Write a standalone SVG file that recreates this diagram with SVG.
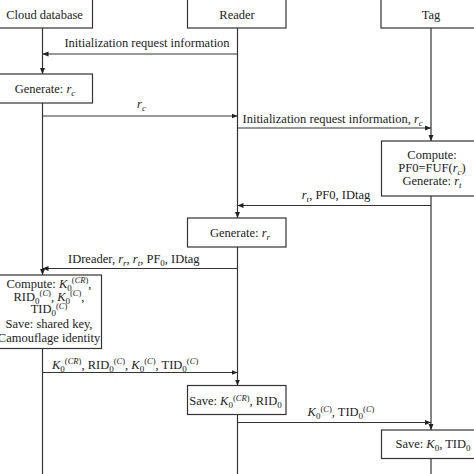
<svg xmlns="http://www.w3.org/2000/svg" width="474" height="474" viewBox="0 0 474 474">
<defs>
<marker id="ah" viewBox="0 0 6 6" refX="6" refY="3" markerWidth="6" markerHeight="6" markerUnits="userSpaceOnUse" orient="auto">
<path d="M0,0.5 L6,3 L0,5.5 z" fill="#222"/>
</marker>
<style>
.bx{fill:#fff;stroke:#333;stroke-width:1.2}
.ln{fill:none;stroke:#333;stroke-width:1.2}
.ar{fill:none;stroke:#333;stroke-width:1.2;marker-end:url(#ah)}
text{font-family:"Liberation Serif","Times New Roman",serif;font-size:12.5px;fill:#222}
.m{text-anchor:middle}
.i{font-style:italic}
.s{font-size:9px}
.u{font-size:8.5px}
</style>
</defs>
<rect width="474" height="474" fill="#fff"/>
<g id="connectors">
<line class="ar" x1="42.5" y1="28" x2="42.5" y2="74"/>
<line class="ar" x1="42.5" y1="103" x2="42.5" y2="275"/>
<line class="ln" x1="42.5" y1="348.5" x2="42.5" y2="474"/>
<line class="ar" x1="237.5" y1="28" x2="237.5" y2="218"/>
<line class="ar" x1="237.5" y1="247" x2="237.5" y2="385.5"/>
<line class="ln" x1="237.5" y1="414.5" x2="237.5" y2="474"/>
<line class="ar" x1="431" y1="28" x2="431" y2="141"/>
<line class="ar" x1="431" y1="196" x2="431" y2="430"/>
<line class="ln" x1="431" y1="458.5" x2="431" y2="474"/>
<line class="ar" x1="237.5" y1="54" x2="42.5" y2="54"/>
<line class="ar" x1="42.5" y1="116" x2="237.5" y2="116"/>
<line class="ar" x1="237.5" y1="128" x2="431" y2="128"/>
<line class="ar" x1="431" y1="205.5" x2="237.5" y2="205.5"/>
<line class="ar" x1="237.5" y1="268.5" x2="42.5" y2="268.5"/>
<line class="ar" x1="42.5" y1="372.5" x2="237.5" y2="372.5"/>
<line class="ar" x1="237.5" y1="422.5" x2="431" y2="422.5"/>
<text class="m" x="147" y="47">Initialization request information</text>
<text x="137" y="108"><tspan class="i">r</tspan><tspan class="i s" dy="3">c</tspan></text>
<text x="242.5" y="122.5">Initialization request information, <tspan class="i">r</tspan><tspan class="i s" dy="3">c</tspan></text>
<text class="m" x="336" y="198.5"><tspan class="i">r</tspan><tspan class="i s" dy="3">t</tspan><tspan dy="-3">, PF0, IDtag</tspan></text>
<text x="68" y="263">IDreader, <tspan class="i">r</tspan><tspan class="i s" dy="3">r</tspan><tspan dy="-3">, </tspan><tspan class="i">r</tspan><tspan class="i s" dy="3">t</tspan><tspan dy="-3">, PF</tspan><tspan class="s" dy="3">0</tspan><tspan dy="-3">, IDtag</tspan></text>
<text x="52" y="368.5"><tspan class="i">K</tspan><tspan class="s" dy="3">0</tspan><tspan class="u" dy="-7.5">(<tspan class="i">CR</tspan>)</tspan><tspan dy="4.5">, RID</tspan><tspan class="s" dy="3">0</tspan><tspan class="u" dy="-7.5">(<tspan class="i">C</tspan>)</tspan><tspan dy="4.5">, </tspan><tspan class="i">K</tspan><tspan class="s" dy="3">0</tspan><tspan class="u" dy="-7.5">(<tspan class="i">C</tspan>)</tspan><tspan dy="4.5">, TID</tspan><tspan class="s" dy="3">0</tspan><tspan class="u" dy="-7.5">(<tspan class="i">C</tspan>)</tspan></text>
<text class="m" x="341" y="416"><tspan class="i">K</tspan><tspan class="s" dy="3">0</tspan><tspan class="u" dy="-7.5">(<tspan class="i">C</tspan>)</tspan><tspan dy="4.5">, TID</tspan><tspan class="s" dy="3">0</tspan><tspan class="u" dy="-7.5">(<tspan class="i">C</tspan>)</tspan></text>
</g>
<g id="cloud-database">
<rect class="bx" x="-3" y="-3" width="95.5" height="31"/>
<text class="m" x="44.5" y="19">Cloud database</text>
</g>
<g id="reader">
<rect class="bx" x="187.5" y="-3" width="98.5" height="31"/>
<text class="m" x="237" y="19">Reader</text>
</g>
<g id="tag">
<rect class="bx" x="381" y="-3" width="100" height="31"/>
<text class="m" x="431" y="19">Tag</text>
</g>
<g id="generate-rc">
<rect class="bx" x="-3" y="74" width="95.5" height="29"/>
<text class="m" x="45" y="93">Generate: <tspan class="i">r</tspan><tspan class="i s" dy="3">c</tspan></text>
</g>
<g id="tag-compute">
<rect class="bx" x="381.5" y="141" width="100" height="55"/>
<text class="m" x="432" y="158.5">Compute:</text>
<text class="m" x="432" y="172">PF0=FUF(<tspan class="i">r</tspan><tspan class="i s" dy="3">c</tspan><tspan dy="-3">)</tspan></text>
<text class="m" x="432" y="185">Generate: <tspan class="i">r</tspan><tspan class="i s" dy="3">t</tspan></text>
</g>
<g id="generate-rr">
<rect class="bx" x="187.5" y="218" width="98.5" height="29"/>
<text class="m" x="240" y="236.5">Generate: <tspan class="i">r</tspan><tspan class="i s" dy="3">r</tspan></text>
</g>
<g id="cloud-compute">
<rect class="bx" x="-3" y="275" width="104.5" height="73.5"/>
<text class="m" x="49" y="287.5">Compute: <tspan class="i">K</tspan><tspan class="s" dy="3">0</tspan><tspan class="u" dy="-7.5">(<tspan class="i">CR</tspan>)</tspan><tspan dy="4.5">,</tspan></text>
<text class="m" x="49" y="300.5">RID<tspan class="s" dy="3">0</tspan><tspan class="u" dy="-7.5">(<tspan class="i">C</tspan>)</tspan><tspan dy="4.5">, </tspan><tspan class="i">K</tspan><tspan class="s" dy="3">0</tspan><tspan class="u" dy="-7.5">(<tspan class="i">C</tspan>)</tspan><tspan dy="4.5">,</tspan></text>
<text class="m" x="49" y="313">TID<tspan class="s" dy="3">0</tspan><tspan class="u" dy="-7.5">(<tspan class="i">C</tspan>)</tspan></text>
<text class="m" x="49" y="327.5">Save: shared key,</text>
<text class="m" x="49" y="342">Camouflage identity</text>
</g>
<g id="reader-save">
<rect class="bx" x="187.5" y="385.5" width="98.5" height="29"/>
<text class="m" x="235.5" y="405">Save: <tspan class="i">K</tspan><tspan class="s" dy="3">0</tspan><tspan class="u" dy="-7.5">(<tspan class="i">CR</tspan>)</tspan><tspan dy="4.5">, RID</tspan><tspan class="s" dy="3">0</tspan></text>
</g>
<g id="tag-save">
<rect class="bx" x="381.5" y="430" width="100" height="28.5"/>
<text class="m" x="433" y="448">Save: <tspan class="i">K</tspan><tspan class="s" dy="3">0</tspan><tspan dy="-3">, TID</tspan><tspan class="s" dy="3">0</tspan></text>
</g>
</svg>
